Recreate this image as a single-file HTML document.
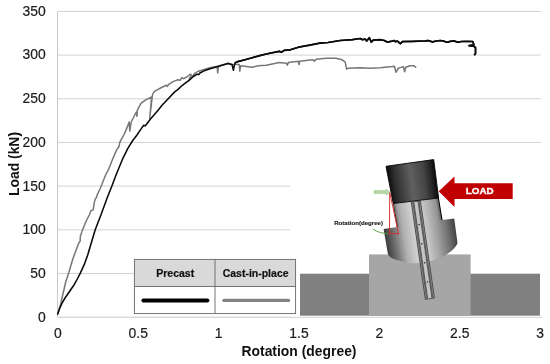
<!DOCTYPE html>
<html><head><meta charset="utf-8"><title>Load vs Rotation</title>
<style>
html,body{margin:0;padding:0;background:#fff;}
svg{display:block;font-family:"Liberation Sans",Arial,sans-serif;}
</style></head>
<body>
<svg width="550" height="364" viewBox="0 0 550 364">
<defs>
<linearGradient id="gTop" gradientUnits="userSpaceOnUse" x1="388.5" y1="185" x2="436.5" y2="178.6">
<stop offset="0" stop-color="#0c0c0c"/><stop offset="0.15" stop-color="#2e2e2e"/><stop offset="0.48" stop-color="#606060"/><stop offset="0.75" stop-color="#454545"/><stop offset="0.93" stop-color="#1c1c1c"/><stop offset="1" stop-color="#080808"/>
</linearGradient>
<linearGradient id="gBowl" gradientUnits="userSpaceOnUse" x1="384" y1="240" x2="457" y2="229">
<stop offset="0" stop-color="#343434"/><stop offset="0.14" stop-color="#6e6e6e"/><stop offset="0.28" stop-color="#b0b0b0"/><stop offset="0.42" stop-color="#d0d0d0"/><stop offset="0.58" stop-color="#c8c8c8"/><stop offset="0.72" stop-color="#a2a2a2"/><stop offset="0.87" stop-color="#707070"/><stop offset="1" stop-color="#3a3a3a"/>
</linearGradient>
</defs>
<rect width="550" height="364" fill="#fff"/>
<g stroke="#d2d2d2" stroke-width="1" fill="none">
<line x1="57.5" y1="273.51" x2="540.7" y2="273.51"/>
<line x1="57.5" y1="229.83" x2="540.7" y2="229.83"/>
<line x1="57.5" y1="186.14" x2="540.7" y2="186.14"/>
<line x1="57.5" y1="142.46" x2="540.7" y2="142.46"/>
<line x1="57.5" y1="98.77" x2="540.7" y2="98.77"/>
<line x1="57.5" y1="55.09" x2="540.7" y2="55.09"/>
<line x1="57.5" y1="11.40" x2="540.7" y2="11.40"/>
<line x1="57.5" y1="11.4" x2="57.5" y2="317.2" stroke="#c8c8c8"/>
<line x1="57.5" y1="317.2" x2="542.2" y2="317.2" stroke="#c8c8c8"/>
</g>
<g font-size="13.9" fill="#1c1c1c" stroke="#1c1c1c" stroke-width="0.2">
<text x="45.8" y="321.60" text-anchor="end">0</text>
<text x="45.8" y="277.91" text-anchor="end">50</text>
<text x="45.8" y="234.23" text-anchor="end">100</text>
<text x="45.8" y="190.54" text-anchor="end">150</text>
<text x="45.8" y="146.86" text-anchor="end">200</text>
<text x="45.8" y="103.17" text-anchor="end">250</text>
<text x="45.8" y="59.49" text-anchor="end">300</text>
<text x="45.8" y="15.80" text-anchor="end">350</text>
<text x="57.90" y="338.4" text-anchor="middle">0</text>
<text x="138.27" y="338.4" text-anchor="middle">0.5</text>
<text x="218.63" y="338.4" text-anchor="middle">1</text>
<text x="299.00" y="338.4" text-anchor="middle">1.5</text>
<text x="379.37" y="338.4" text-anchor="middle">2</text>
<text x="459.73" y="338.4" text-anchor="middle">2.5</text>
<text x="540.10" y="338.4" text-anchor="middle">3</text>
</g>
<text x="299" y="355.6" text-anchor="middle" font-size="13.9" font-weight="bold" fill="#111">Rotation (degree)</text>
<text transform="translate(18.5,164) rotate(-90)" text-anchor="middle" font-size="13.9" font-weight="bold" fill="#111">Load (kN)</text>

<!-- illustration -->
<rect x="290" y="150" width="250.5" height="166.5" fill="#fff"/>
<rect x="300" y="273.7" width="240" height="42" fill="#808080"/>
<rect x="369" y="254.4" width="101.6" height="61.3" fill="#a6a6a6"/>
<!-- body -->
<path d="M383.6 228.9 L397.2 227.0 L393.2 203.5 L438.6 198.0 L442.3 220.0 L454.2 218.4 L457.5 243 C456 248 449 254 440.9 257.5 C433 261 424 263.2 416.2 263.2 C408 263.2 399.7 261.3 393.1 258.7 C390 257.4 388.3 255.5 387.8 253.5 Z" fill="url(#gBowl)"/>
<path d="M393.4 203.5 L397.4 227.0" stroke="#2e2e2e" stroke-width="1.2" fill="none" opacity="0.85"/>
<path d="M394.6 203.5 L398.6 227.0" stroke="#6a6a6a" stroke-width="1.2" fill="none" opacity="0.5"/>
<path d="M438.3 198.0 L442.0 220.0" stroke="#0c0c0c" stroke-width="1.2" fill="none"/>
<path d="M437.0 198.2 L440.7 220.2" stroke="#555" stroke-width="1.6" fill="none" opacity="0.5"/>
<!-- head -->
<path d="M386.0 166.3 L433.7 159.6 L438.6 198.0 L393.2 203.5 Z" fill="url(#gTop)" stroke="#060606" stroke-width="0.9" stroke-linejoin="miter"/>
<!-- duct -->
<g transform="translate(415.9,201.6) rotate(-8.2)">
<rect x="-4.6" y="0" width="9.2" height="98" fill="#9a9a9a" stroke="#3c3c3c" stroke-width="0.8"/>
<rect x="-3.6" y="0.4" width="2" height="97.2" fill="#5e5e5e"/>
<rect x="1.6" y="0.4" width="2" height="97.2" fill="#5e5e5e"/>
<rect x="-1.5" y="0.4" width="3" height="97.2" fill="#c6c6c6"/>
<g fill="#333"><circle cx="0" cy="23.2" r="0.8"/><circle cx="0" cy="42.6" r="0.8"/><circle cx="0" cy="61.8" r="0.8"/><circle cx="0" cy="81.2" r="0.8"/></g>
</g>
<!-- red triangle -->
<path d="M389.5 234.3 L389.7 192.3 L392.9 207 L398.6 234.6 M389 233.6 L399 233.6" fill="none" stroke="#d42a2a" stroke-width="0.95" stroke-linejoin="round"/>
<!-- green arrow -->
<path d="M374 190.6 L386 190.6 L386 189 L390 192.1 L386 195.2 L386 193.6 L374 193.6 Z" fill="#b6d7a8" stroke="#93c47d" stroke-width="0.5"/>
<path d="M372.7 229.1 C378 232.5 383 233.6 388.2 233.4" fill="none" stroke="#5a9a3a" stroke-width="0.9"/>
<text x="334.2" y="224.6" font-size="6.1" font-weight="bold" fill="#222" stroke="#222" stroke-width="0.15">Rotation(degree)</text>
<!-- load arrow -->
<path d="M438.7 191.3 L454.5 176.4 L454.5 183.3 L512.7 183.3 L512.7 199.1 L454.5 199.1 L454.5 206.9 Z" fill="#c00000"/>
<text transform="translate(479.8,194.4) scale(1.07,1)" text-anchor="middle" font-size="9.2" font-weight="bold" fill="#fff" stroke="#fff" stroke-width="0.35">LOAD</text>

<!-- legend -->
<rect x="134.4" y="259.4" width="161.2" height="54.2" fill="#fff"/>
<rect x="134.4" y="259.4" width="161.2" height="27.1" fill="#d9d9d9"/>
<g stroke="#666" stroke-width="0.9" fill="none">
<rect x="134.4" y="259.4" width="161.2" height="54.2"/>
<line x1="134.4" y1="286.5" x2="295.6" y2="286.5"/>
<line x1="215" y1="259.4" x2="215" y2="313.6"/>
</g>
<text x="175.2" y="277.3" text-anchor="middle" font-size="10.5" font-weight="bold" fill="#111" stroke="#111" stroke-width="0.2">Precast</text>
<text x="255.6" y="277.3" text-anchor="middle" font-size="10.5" font-weight="bold" fill="#111" stroke="#111" stroke-width="0.2">Cast-in-place</text>
<line x1="143.4" y1="300.4" x2="207.4" y2="300.4" stroke="#000" stroke-width="4" stroke-linecap="round"/>
<line x1="223.9" y1="300.4" x2="288.5" y2="300.4" stroke="#848484" stroke-width="3.3" stroke-linecap="round"/>

<!-- curves -->
<polyline points="57.7,313.9 60.8,303.4 62.7,295 65.7,282 68.7,273 72.5,260.0 74.4,254.5 78.7,243.2 80.1,241.4 80.4,236 82.6,229.8 86.4,220.5 89.3,215 91,210.7 93.2,209.9 94.3,202.5 95.4,198.6 96.5,197.5 97,195.3 100.3,188.2 103,181.5 105.6,175 108.2,170.2 112.6,159.2 116.4,150.4 119.2,146 119.7,142.7 121.9,138.3 123.8,135 126.4,129.1 129.2,122.0 129.8,131.1 131.2,122.0 135.2,114.0 136.3,112.0 136.9,116.3 137.4,110.2 141.1,103.2 145,100.4 151.6,96.8 149.7,118.3 152.4,95.5 153.2,93 155.4,90.8 161.5,87.5 166.4,85.3 167.5,86.4 168.6,84.4 173.6,81.4 178,79.8 180.2,80.3 181.8,77.6 183.5,78.7 186.8,77 190,74.3 191.2,74.8 189,79.8 192.3,76.5 194.5,73.7 197.7,71.5 205,69.3 210,67.8 217.1,66.2 217.7,72.9 218.5,66.0 228.1,63.2 232.1,64.2 239.2,64.6 239.8,71.2 240.6,65.8 252.2,67.2 258.2,65.8 266.3,65.2 279.3,62.6 286.3,63.2 287.3,65.2 288.4,62.6 298.4,61.2 299.0,64.6 299.8,61.2 308.0,60.2 313.1,59.8 314.5,61.2 316.1,59.2 326.1,58.2 336.1,58.2 342.2,59.8 345.2,62.2 346.6,69.2 348.2,68.2 360.2,67.8 370.3,68.2 380.3,67.8 392.4,66.6 394.4,66.2 396.0,72.2 398.4,68.2 403.4,66.6 404.6,71.8 405.8,67.2 410.0,65.8 414.0,65.8 415.7,67.2" fill="none" stroke="#777" stroke-width="1.5" stroke-linejoin="round" stroke-linecap="round"/>
<polyline points="57.7,313.9 59.5,309 61.9,303.4 65,298 67.1,295 70.5,290 74.2,284.7 77.3,279 80.3,273.1 84.1,264.9 87.7,255 95.2,229.8 100.9,215 107.5,197 111.9,186 116,175 122.5,159.2 128,148.2 132.4,141 137,135 140.6,129.6 143.7,125.3 145.1,125.9 150.5,119.0 158.3,110.0 162,105.3 167,100 174.7,91.9 178,89.4 182.4,85.3 186.8,81.8 189,80.5 193.4,76.5 196.6,74.3 198.8,74.6 199.9,73.0 205,70.4 210,68.8 217.1,66.8 228.1,63.4 232.1,64.8 233.4,70.3 234.3,65.6 235.3,62.8 237.9,61.6 245,59.7 252.2,57.7 260,55.6 266.3,54.0 279.3,51.3 281.3,52.3 284.3,50.3 290.4,49.8 298.4,47.2 310.0,45.1 320.1,43.1 328.1,42.5 340.2,40.5 352.2,39.7 360.2,38.5 362.2,39.7 365.3,39.1 366.7,41.1 369.3,37.7 371.3,42.1 373.3,40.1 380.3,39.7 384.3,40.5 387.3,42.1 392.4,41.1 394.4,40.5 395.4,41.7 397.4,41.1 400.4,43.7 402.4,41.6 412.0,41.4 425,40.9 428,40.6 432.7,41.9 436,41.0 440.4,40.5 444,41.2 447,42.3 450,41.4 453.6,40.9 456,41.6 458,42.3 461.3,41.5 467,41.4 472.8,41.5 473.9,44.8 469,45.7 473.4,46.1 475.5,47.5 475.5,53.6 474.6,54.7" fill="none" stroke="#0a0a0a" stroke-width="1.55" stroke-linejoin="round" stroke-linecap="round"/>
<polyline points="235.3,62.8 237.9,61.6 245,59.7 252.2,57.7 260,55.6 266.3,54.0 279.3,51.3 281.3,52.3 284.3,50.3 290.4,49.8 298.4,47.2 310.0,45.1 320.1,43.1 328.1,42.5 340.2,40.5 352.2,39.7 360.2,38.5 362.2,39.7 365.3,39.1 366.7,41.1 369.3,37.7 371.3,42.1 373.3,40.1 380.3,39.7 384.3,40.5 387.3,42.1 392.4,41.1 394.4,40.5 395.4,41.7 397.4,41.1 400.4,43.7 402.4,41.6 412.0,41.4 425,40.9 428,40.6 432.7,41.9 436,41.0 440.4,40.5 444,41.2 447,42.3 450,41.4 453.6,40.9 456,41.6 458,42.3 461.3,41.5 467,41.4 472.8,41.5 473.9,44.8 469,45.7 473.4,46.1 475.5,47.5 475.5,53.6 474.6,54.7" fill="none" stroke="#0a0a0a" stroke-width="1.7" stroke-linejoin="round" stroke-linecap="round"/>
</svg>
</body></html>
